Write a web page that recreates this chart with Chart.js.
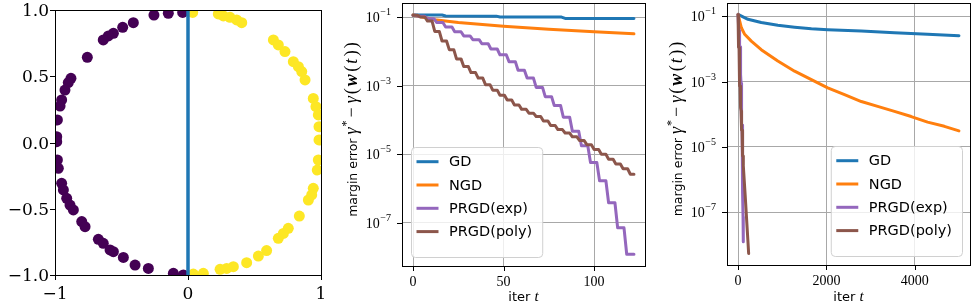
<!DOCTYPE html>
<html>
<head>
<meta charset="utf-8">
<script src="https://cdn.jsdelivr.net/npm/chart.js@4.4.1/dist/chart.umd.min.js"></script>
<style>
  html, body { margin: 0; padding: 0; background: #fff; }
  #wrap { position: relative; width: 973px; height: 305px; overflow: hidden; }
  canvas { position: absolute; top: 0; }
</style>
</head>
<body>
<div id="wrap">
  <canvas id="circle" width="330" height="305" style="left:0"></canvas>
  <canvas id="short" width="320" height="305" style="left:330px"></canvas>
  <canvas id="long" width="323" height="305" style="left:650px"></canvas>
</div>
<script>
// --- left panel : points on the unit circle
const purpleX = [-0.256, -0.148, -0.040, -0.411, -0.491, -0.561, -0.599, -0.637, -0.757, -0.880, -0.900, -0.925,
  -0.950, -0.962, -0.982, -0.987, -0.987, -0.982, -0.975, -0.950, -0.937, -0.912, -0.887, -0.862, -0.799, -0.774,
  -0.674, -0.637, -0.586, -0.561, -0.486, -0.398, -0.298, -0.110, -0.035];
const purpleY = [0.962, 0.975, 0.982, 0.904, 0.869, 0.824, 0.804, 0.774, 0.643, 0.484, 0.452, 0.396,
  0.321, 0.275, 0.170, 0.044, 0.006, -0.132, -0.195, -0.308, -0.358, -0.421, -0.472, -0.509, -0.597, -0.635,
  -0.731, -0.761, -0.811, -0.824, -0.867, -0.925, -0.950, -0.987, -1.0];
const yellowX = [0.035, 0.228, 0.266, 0.316, 0.366, 0.404, 0.642, 0.679, 0.729, 0.792, 0.830, 0.855, 0.880,
  0.942, 0.962, 0.980, 0.985, 0.985, 0.980, 0.972, 0.942, 0.930, 0.905, 0.837, 0.754, 0.717, 0.679, 0.591,
  0.529, 0.441, 0.341, 0.291, 0.241, 0.115, 0.040];
const yellowY = [0.982, 0.970, 0.955, 0.945, 0.925, 0.904, 0.774, 0.736, 0.686, 0.610, 0.572, 0.535, 0.472,
  0.333, 0.270, 0.208, 0.119, 0.019, -0.132, -0.208, -0.346, -0.396, -0.434, -0.555, -0.648, -0.686, -0.723,
  -0.816, -0.857, -0.907, -0.937, -0.950, -0.957, -0.987, -0.993];

// --- middle panel : first 122 iterations
const gdIter = [0, 16, 18, 46, 48, 82, 84, 122];
const gdErr = [0.115, 0.114, 0.107, 0.106, 0.100, 0.0995, 0.0912, 0.0900];
const ngdIter = [0, 5, 12, 25, 50, 75, 100, 122];
const ngdErr = [0.115, 0.100, 0.0832, 0.0692, 0.0537, 0.0437, 0.0372, 0.0324];
const expStart = [0, 3, 8, 13, 18, 23, 28, 33, 38, 43, 48, 53, 58, 63, 68, 73, 78, 83, 88, 93, 98, 103, 108, 113, 118];
const expErr = [0.112, 0.105, 0.0891, 0.0692, 0.0513, 0.0372, 0.0282, 0.0219, 0.0166, 0.0117, 7.94e-3, 5.01e-3,
  2.82e-3, 1.66e-3, 8.91e-4, 4.79e-4, 2.63e-4, 1.20e-4, 4.68e-5, 1.78e-5, 5.75e-6, 1.70e-6, 3.89e-7, 7.24e-8, 1.23e-8];
const polyStart = [0, 4, 8, 12, 16, 20, 24, 28, 32, 36, 40, 44, 48, 52, 56, 60, 64, 68, 72, 76, 80, 84, 88, 92,
  96, 100, 104, 108, 112, 116, 120];
const polyErr = [0.112, 0.100, 0.0759, 0.0380, 0.0200, 0.0112, 6.03e-3, 3.63e-3, 2.40e-3, 1.66e-3, 1.07e-3,
  7.41e-4, 5.25e-4, 3.80e-4, 2.75e-4, 2.04e-4, 1.58e-4, 1.26e-4, 9.33e-5, 6.92e-5, 5.25e-5, 4.17e-5, 3.24e-5,
  2.51e-5, 1.91e-5, 1.38e-5, 1.00e-5, 7.24e-6, 5.25e-6, 3.80e-6, 2.63e-6];
const lastIter = 122;

// --- right panel : 5000 iterations
const gdLongIter = [0, 225, 525, 900, 1280, 1660, 2030, 2790, 3540, 4290, 5000];
const gdLongErr = [0.115, 0.0813, 0.0646, 0.0537, 0.0468, 0.0417, 0.0389, 0.0355, 0.0316, 0.0282, 0.0257];
const ngdLongIter = [0, 75, 150, 300, 525, 900, 1280, 1660, 2030, 2410, 2790, 3160, 3540, 3920, 4290, 4670, 5000];
const ngdLongErr = [0.115, 0.0447, 0.0282, 0.0174, 9.55e-3, 4.27e-3, 2.09e-3, 1.15e-3, 6.46e-4, 3.98e-4,
  2.45e-4, 1.74e-4, 1.23e-4, 8.51e-5, 5.75e-5, 4.27e-5, 3.09e-5];
const polyTailIter = [160, 200, 240];
const polyTailErr = [3.5e-7, 4.4e-8, 5.4e-9];

const seriesNames = ['GD', 'NGD', 'PRGD(exp)', 'PRGD(poly)'];
const seriesColors = ['#1f77b4', '#ff7f0e', '#9467bd', '#8c564b'];

const SANS = '"DejaVu Sans", sans-serif';
const SERIF = '"Liberation Serif", serif';

const zip = (xs, ys) => xs.map((x, i) => ({ x: x, y: ys[i] }));

// flat part of every step, then a short drop to the next level
function stairs(starts, levels, end) {
  const pts = [];
  for (let i = 0; i < starts.length; i++) {
    const flatEnd = i + 1 < starts.length ? starts[i + 1] - 1.5 : end;
    pts.push({ x: starts[i], y: levels[i] }, { x: Math.max(starts[i], flatEnd), y: levels[i] });
  }
  return pts;
}

function drawRich(ctx, segs, x, y, rotate) {
  ctx.save();
  ctx.translate(x, y);
  if (rotate) ctx.rotate(-Math.PI / 2);
  let total = 0;
  segs.forEach(s => { ctx.font = s.f; s.w = ctx.measureText(s.t).width + (s.gap || 0); total += s.w; });
  let cx = -total / 2;
  ctx.textAlign = 'left';
  ctx.textBaseline = 'alphabetic';
  segs.forEach(s => { ctx.font = s.f; ctx.fillText(s.t, cx, s.dy || 0); cx += s.w; });
  ctx.restore();
}

// matplotlib-like frame, ticks, labels and legend
const mplAxes = {
  id: 'mplAxes',
  afterDraw(chart, args, o) {
    const ctx = chart.ctx;
    const a = chart.chartArea;
    const xs = chart.scales.x, ys = chart.scales.y;
    ctx.save();
    ctx.fillStyle = '#000';
    ctx.strokeStyle = '#000';
    ctx.lineWidth = 1;
    // tick marks
    ctx.beginPath();
    o.xTicks.forEach(v => {
      const px = Math.round(xs.getPixelForValue(v)) + 0.5;
      ctx.moveTo(px, a.bottom); ctx.lineTo(px, a.bottom + 5);
    });
    o.yTicks.forEach(v => {
      const py = Math.round(ys.getPixelForValue(v)) + 0.5;
      ctx.moveTo(a.left, py); ctx.lineTo(a.left - 5, py);
    });
    ctx.stroke();
    // frame
    ctx.strokeRect(Math.round(a.left) + 0.5, Math.round(a.top) + 0.5,
      Math.round(a.right - a.left), Math.round(a.bottom - a.top));
    // x tick labels
    ctx.font = o.tickFont;
    ctx.textAlign = 'center';
    ctx.textBaseline = 'alphabetic';
    o.xTicks.forEach((v, i) => ctx.fillText(o.xLabels[i], xs.getPixelForValue(v), a.bottom + o.xLabelOffset));
    // y tick labels
    o.yTicks.forEach((v, i) => {
      const py = ys.getPixelForValue(v);
      if (o.logLabels) {
        const exp = '−' + Math.round(-Math.log10(v));
        ctx.font = o.supFont;
        const ws = ctx.measureText(exp).width;
        const right = a.left - 11;
        ctx.textAlign = 'right';
        ctx.fillText(exp, right, py - 2);
        ctx.font = o.tickFont;
        ctx.fillText('10', right - ws - 0.5, py + 5);
      } else {
        ctx.font = o.tickFont;
        ctx.textAlign = 'right';
        ctx.fillText(o.yLabels[i], a.left - 6, py + 6);
      }
    });
    // axis labels
    if (o.xTitle) drawRich(ctx, o.xTitle, (a.left + a.right) / 2, 301, false);
    if (o.yTitle) drawRich(ctx, o.yTitle, a.left - 45, (a.top + a.bottom) / 2 - 5, true);
    // legend
    if (o.legend) {
      const L = o.legend;
      ctx.font = `14.5px ${SANS}`;
      const tw = Math.max(...seriesNames.map(n => ctx.measureText(n).width));
      const w = 38 + tw + 10, h = 110;
      const lx = L.side === 'left' ? a.left + 9 : a.right - 8 - w;
      const ly = a.bottom - 9 - h;
      ctx.beginPath();
      ctx.roundRect(lx + 0.5, ly + 0.5, w, h, 4);
      ctx.fillStyle = 'rgba(255,255,255,0.8)';
      ctx.fill();
      ctx.strokeStyle = '#d0d0d0';
      ctx.stroke();
      seriesNames.forEach((n, i) => {
        const ry = ly + 14.7 + i * 23.3;
        ctx.strokeStyle = seriesColors[i];
        ctx.lineWidth = 3;
        ctx.beginPath();
        ctx.moveTo(lx + 5.5, ry); ctx.lineTo(lx + 27.5, ry);
        ctx.stroke();
        ctx.fillStyle = '#000';
        ctx.textAlign = 'left';
        ctx.textBaseline = 'middle';
        ctx.fillText(n, lx + 38, ry + 1);
      });
    }
    ctx.restore();
  }
};

const yTitle = [
  { t: 'margin error ', f: `12.5px ${SANS}` },
  { t: 'γ', f: `italic 18px ${SERIF}`, gap: 1 },
  { t: '*', f: `12px ${SERIF}`, dy: -7, gap: 3 },
  { t: '−', f: `18px ${SERIF}`, gap: 4 },
  { t: 'γ', f: `italic 18px ${SERIF}`, gap: 2 },
  { t: '(', f: `18px ${SERIF}`, gap: 2 },
  { t: 'w', f: `italic bold 18px ${SERIF}`, gap: 2.5 },
  { t: '(', f: `18px ${SERIF}`, gap: 2 },
  { t: 't', f: `italic 18px ${SERIF}`, gap: 2.5 },
  { t: ')', f: `18px ${SERIF}`, gap: 2 },
  { t: ')', f: `18px ${SERIF}` }
];
const xTitle = [
  { t: 'iter ', f: `13px ${SANS}` },
  { t: 't', f: `italic 15px ${SERIF}` }
];

const logTicks = [1e-1, 1e-3, 1e-5, 1e-7];

function lineSet(i, data) {
  return {
    label: seriesNames[i], data: data, borderColor: seriesColors[i], backgroundColor: seriesColors[i],
    borderWidth: 3, pointRadius: 0, tension: 0, fill: false, order: 3 - i,
    borderJoinStyle: 'round', borderCapStyle: 'round'
  };
}

function hiddenAxis(extra) {
  return Object.assign({
    ticks: { display: false },
    grid: { display: false, drawTicks: false },
    border: { display: false }
  }, extra);
}

// left: scatter of the two classes
new Chart(document.getElementById('circle'), {
  type: 'scatter',
  data: {
    datasets: [
      { type: 'line', data: [{ x: 0, y: -1 }, { x: 0, y: 1 }], borderColor: '#1f77b4', borderWidth: 3.5,
        pointRadius: 0, clip: 0 },
      { data: zip(purpleX, purpleY), backgroundColor: '#440154', borderWidth: 0, pointRadius: 5.5, clip: 0 },
      { data: zip(yellowX, yellowY), backgroundColor: '#fde725', borderWidth: 0, pointRadius: 5.5, clip: 0 }
    ]
  },
  options: {
    responsive: false, animation: false, devicePixelRatio: 1,
    layout: { padding: { left: 0, right: 9, top: 10, bottom: 0 } },
    scales: {
      x: hiddenAxis({ type: 'linear', min: -1, max: 1, afterFit: s => { s.height = 30; } }),
      y: hiddenAxis({ type: 'linear', min: -1, max: 1, afterFit: s => { s.width = 55; } })
    },
    plugins: {
      legend: { display: false }, tooltip: { enabled: false },
      mplAxes: {
        xTicks: [-1, 0, 1], xLabels: ['−1', '0', '1'],
        yTicks: [-1, -0.5, 0, 0.5, 1], yLabels: ['−1.0', '−0.5', '0.0', '0.5', '1.0'],
        tickFont: `17px "DejaVu Serif", serif`, xLabelOffset: 24
      }
    }
  },
  plugins: [mplAxes]
});

function errorChart(id, datasets, xr, xTickVals, yr, pad, yw, xh, legendSide) {
  return new Chart(document.getElementById(id), {
    type: 'line',
    data: { datasets: datasets },
    options: {
      responsive: false, animation: false, devicePixelRatio: 1,
      layout: { padding: { left: 0, right: pad.right, top: pad.top, bottom: 0 } },
      scales: {
        x: {
          type: 'linear', min: xr[0], max: xr[1],
          afterBuildTicks: s => { s.ticks = xTickVals.map(v => ({ value: v })); },
          afterFit: s => { s.height = xh; },
          ticks: { display: false },
          grid: { color: '#a8a8a8', lineWidth: 1, drawTicks: false },
          border: { display: false }
        },
        y: {
          type: 'logarithmic', min: Math.pow(10, yr[0]), max: Math.pow(10, yr[1]),
          afterBuildTicks: s => { s.ticks = logTicks.map(v => ({ value: v })); },
          afterFit: s => { s.width = yw; },
          ticks: { display: false },
          grid: { color: '#a8a8a8', lineWidth: 1, drawTicks: false },
          border: { display: false }
        }
      },
      plugins: {
        legend: { display: false }, tooltip: { enabled: false },
        mplAxes: {
          xTicks: xTickVals, xLabels: xTickVals.map(String),
          yTicks: logTicks, logLabels: true,
          tickFont: `14px ${SERIF}`, supFont: `10px ${SERIF}`, xLabelOffset: 20,
          xTitle: xTitle, yTitle: yTitle, legend: { side: legendSide }
        }
      }
    },
    plugins: [mplAxes]
  });
}

errorChart('short', [
  lineSet(0, zip(gdIter, gdErr)),
  lineSet(1, zip(ngdIter, ngdErr)),
  lineSet(2, stairs(expStart, expErr, lastIter)),
  lineSet(3, stairs(polyStart, polyErr, lastIter))
], [-6.1, 128.1], [0, 50, 100], [-8.253, -0.592], { right: 5, top: 3 }, 72, 39, 'left');

errorChart('long', [
  lineSet(0, zip(gdLongIter, gdLongErr)),
  lineSet(1, zip(ngdLongIter, ngdLongErr)),
  lineSet(2, stairs(expStart, expErr, lastIter)),
  lineSet(3, stairs(polyStart, polyErr, lastIter).concat(zip(polyTailIter, polyTailErr)))
], [-250, 5250], [0, 2000, 4000], [-8.62, -0.59], { right: 3, top: 3 }, 77, 40, 'right');
</script>
</body>
</html>
